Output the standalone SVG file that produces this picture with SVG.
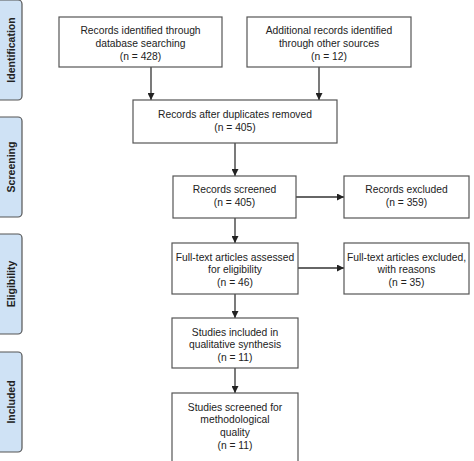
<svg xmlns="http://www.w3.org/2000/svg" width="474" height="461" viewBox="0 0 474 461">
<defs>
<style>
.box{fill:#fff;stroke:#555;stroke-width:1.2}
.tab{fill:#cfe2f5;stroke:#555;stroke-width:1.2}
.t{font-family:"Liberation Sans",Arial,sans-serif;font-size:10.3px;fill:#222;text-anchor:middle}
.tt{font-family:"Liberation Sans",Arial,sans-serif;font-size:10.5px;font-weight:bold;fill:#222;text-anchor:middle}
.c{stroke:#333;stroke-width:1.3;fill:none;marker-end:url(#ah)}
</style>
<marker id="ah" viewBox="0 0 10 10" refX="10" refY="5" markerWidth="7" markerHeight="7" markerUnits="userSpaceOnUse" orient="auto">
<path d="M0,0 L10,5 L0,10 z" fill="#222"/>
</marker>
</defs>
<rect width="474" height="461" fill="#fff"/>
<g id="tab-identification"><rect class="tab" x="-8" y="0" width="30" height="100" rx="4"/><text class="tt" transform="translate(15,50) rotate(-90)">Identification</text></g>
<g id="tab-screening"><rect class="tab" x="-8" y="117" width="30" height="100" rx="4"/><text class="tt" transform="translate(15,167) rotate(-90)">Screening</text></g>
<g id="tab-eligibility"><rect class="tab" x="-8" y="234" width="30" height="100" rx="4"/><text class="tt" transform="translate(15,284) rotate(-90)">Eligibility</text></g>
<g id="tab-included"><rect class="tab" x="-8" y="352" width="30" height="100" rx="4"/><text class="tt" transform="translate(15,402) rotate(-90)">Included</text></g>
<g id="connectors">
<line class="c" x1="151" y1="67" x2="151" y2="100"/>
<line class="c" x1="319" y1="67" x2="319" y2="100"/>
<line class="c" x1="235" y1="143" x2="235" y2="176"/>
<line class="c" x1="296" y1="197" x2="344" y2="197"/>
<line class="c" x1="235" y1="218" x2="235" y2="243"/>
<line class="c" x1="298" y1="268" x2="344" y2="268"/>
<line class="c" x1="235" y1="294" x2="235" y2="318"/>
<line class="c" x1="235" y1="368" x2="235" y2="393"/>
</g>
<g id="n1"><rect class="box" x="59" y="17" width="163" height="50"/><text class="t" x="140.5" y="34">Records identified through</text><text class="t" x="140.5" y="47">database searching</text><text class="t" x="140.5" y="60">(n = 428)</text></g>
<g id="n2"><rect class="box" x="247" y="17" width="164" height="50"/><text class="t" x="329" y="34">Additional records identified</text><text class="t" x="329" y="47">through other sources</text><text class="t" x="329" y="60">(n = 12)</text></g>
<g id="n3"><rect class="box" x="133" y="100" width="204" height="43"/><text class="t" x="235" y="118">Records after duplicates removed</text><text class="t" x="235" y="131">(n = 405)</text></g>
<g id="n4"><rect class="box" x="173" y="176" width="123" height="42"/><text class="t" x="234.5" y="193">Records screened</text><text class="t" x="234.5" y="206">(n = 405)</text></g>
<g id="n5"><rect class="box" x="344" y="176" width="125" height="42"/><text class="t" x="406.5" y="193">Records excluded</text><text class="t" x="406.5" y="206">(n = 359)</text></g>
<g id="n6"><rect class="box" x="172" y="243" width="126" height="51"/><text class="t" x="235" y="261">Full-text articles assessed</text><text class="t" x="235" y="273">for eligibility</text><text class="t" x="235" y="286">(n = 46)</text></g>
<g id="n7"><rect class="box" x="344" y="243" width="125" height="51"/><text class="t" x="406.5" y="261">Full-text articles excluded,</text><text class="t" x="406.5" y="273">with reasons</text><text class="t" x="406.5" y="286">(n = 35)</text></g>
<g id="n8"><rect class="box" x="172" y="318" width="126" height="50"/><text class="t" x="235" y="336">Studies included in</text><text class="t" x="235" y="348">qualitative synthesis</text><text class="t" x="235" y="361">(n = 11)</text></g>
<g id="n9"><rect class="box" x="172" y="393" width="126" height="75"/><text class="t" x="235" y="411">Studies screened for</text><text class="t" x="235" y="423">methodological</text><text class="t" x="235" y="436">quality</text><text class="t" x="235" y="449">(n = 11)</text></g>
</svg>
